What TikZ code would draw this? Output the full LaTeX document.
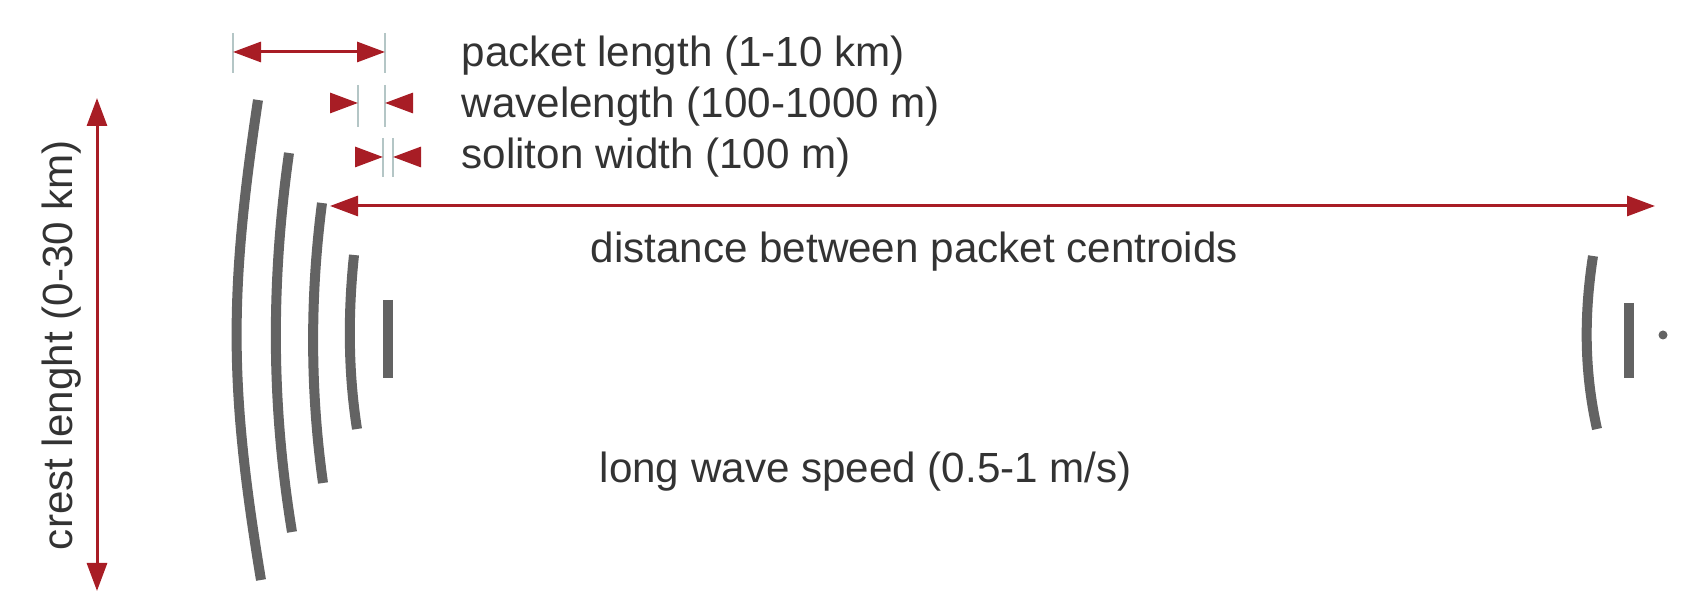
\documentclass[tikz,border=0pt]{standalone}
\usepackage{fontspec}
\setmainfont{Liberation Sans}
\usepackage{xcolor}
\usetikzlibrary{arrows.meta}

\definecolor{dimred}{HTML}{A81D25}
\definecolor{wavegray}{HTML}{636363}
\definecolor{tickgray}{HTML}{B4C6C6}
\definecolor{labelgray}{HTML}{333333}

\begin{document}
\begin{tikzpicture}[x=0.1mm,y=-0.1mm,
    >={Triangle[length=2.8mm,width=2mm]},
    wave/.style={draw=wavegray, line width=1mm},
    dim/.style={draw=dimred, line width=0.3mm},
    tickline/.style={draw=tickgray, line width=0.25mm},
    lbl/.style={text=labelgray, inner sep=0pt, anchor=base west,
                font=\fontsize{12pt}{14pt}\selectfont}]
    \useasboundingbox (0,0) rectangle (1692,604);

    % labels
    \node [lbl] (packet)  at (461,67)  {packet length (1-10 km)};
    \node [lbl] (wavelen) at (461,118) {wavelength (100-1000 m)};
    \node [lbl] (soliton) at (461,169) {soliton width (100 m)};
    \node [lbl] (dist)    at (590,263) {distance between packet centroids};
    \node [lbl] (speed)   at (599,483) {long wave speed (0.5-1 m/s)};
    \node [lbl, anchor=base, rotate=90] (crest) at (72,345) {crest lenght (0-30 km)};

    % packet length
    \coordinate (pl) at (233,52);
    \coordinate (pr) at (385,52);
    \draw [tickline] (233,33) -- (233,73);
    \draw [tickline] (385,33) -- (385,73);
    \draw [dim, <->] (pl) -- (pr);

    % wavelength
    \coordinate (wl) at (358,103);
    \coordinate (wr) at (385,103);
    \draw [tickline] (358,85) -- (358,127);
    \draw [tickline] (385,85) -- (385,127);
    \draw [dim, ->] (330,103) -- (wl);
    \draw [dim, ->] (413,103) -- (wr);

    % soliton width
    \coordinate (sl) at (383,157);
    \coordinate (sr) at (393,157);
    \draw [tickline] (383,138) -- (383,177);
    \draw [tickline] (393,138) -- (393,177);
    \draw [dim, ->] (355,157) -- (sl);
    \draw [dim, ->] (421,157) -- (sr);

    % distance and crest length
    \coordinate (dl) at (330,206);
    \coordinate (dr) at (1655,206);
    \draw [dim, <->] (dl) -- (dr);
    \coordinate (ct) at (97,98);
    \coordinate (cb) at (97,591);
    \draw [dim, <->] (ct) -- (cb);

    % first packet
    \draw [wave] (258,100) .. controls (229,293) and (229,387) .. (261,580);
    \draw [wave] (289,153) .. controls (271,281) and (271,404) .. (292,532);
    \draw [wave] (322,203) .. controls (310,296) and (310,390) .. (323,483);
    \draw [wave] (354,255) .. controls (348,313) and (348,371) .. (357,429);
    \draw [wave] (388,300) -- (388,378);

    % second packet
    \draw [wave] (1593,256) .. controls (1584,314) and (1584,371) .. (1597,429);
    \draw [wave] (1629,303) -- (1629,378);
    \fill [wavegray] (1663,335) circle (4.5);
\end{tikzpicture}
\end{document}
